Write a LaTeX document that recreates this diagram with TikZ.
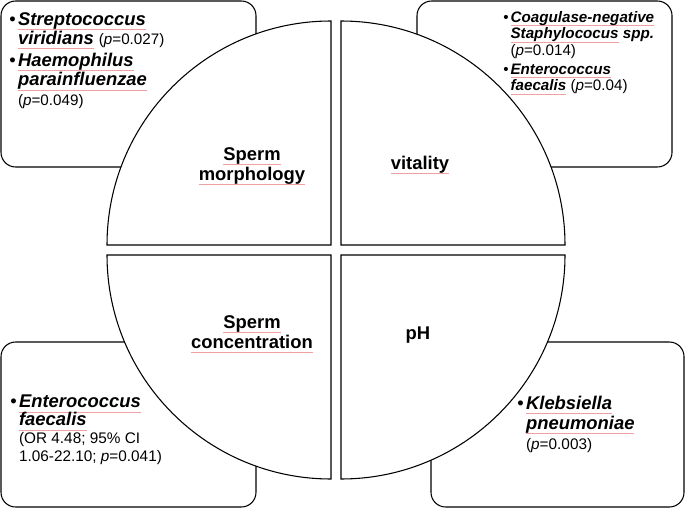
\documentclass[tikz,border=0pt]{standalone}
\usepackage{fontspec}
\setmainfont{Liberation Sans}
\definecolor{spellred}{RGB}{240,160,160}
\newsavebox\splbox
\newcommand\spl[1]{\sbox\splbox{#1}\rlap{\textcolor{spellred}{\rule[-0.45ex]{\wd\splbox}{0.45pt}}}\usebox\splbox}
\newcommand\bi[1]{\textbf{\textit{#1}}}
\newcommand\itm{\makebox[0.48em][l]{\textbullet}}
\newcommand\ind{\hspace*{0.48em}}
\newcommand\fbig{\fontsize{13.8}{14.5}\selectfont}
\newcommand\fmid{\fontsize{11.5}{13.5}\selectfont}
\newcommand\fsmall{\fontsize{11.4}{12.3}\selectfont}
\begin{document}
\begin{tikzpicture}[x=0.75pt,y=0.75pt,
    cornerbox/.style={draw, line width=0.8pt, rounded corners=11pt},
    quarter/.style={draw, fill=white, line width=0.8pt},
    listtext/.style={anchor=north west, align=left, inner sep=0pt},
    centrelabel/.style={align=center, font=\fontsize{13.8}{15}\selectfont\bfseries}]
  \useasboundingbox (0,0) rectangle (685,508);
  % boxes behind
  \draw[cornerbox] (1,507) rectangle (256,341);
  \draw[cornerbox] (417,507) rectangle (672,341);
  \draw[cornerbox] (1,166) rectangle (256,1);
  \draw[cornerbox] (431,166) rectangle (684,1);
  % four quarters
  \draw[quarter] (331,263) -- (107,263) arc[start angle=180, end angle=90, radius=224] -- cycle;
  \draw[quarter] (341,263) -- (341,487) arc[start angle=90, end angle=0, radius=224] -- cycle;
  \draw[quarter] (331,253) -- (107,253) arc[start angle=180, end angle=270, radius=224] -- cycle;
  \draw[quarter] (341,253) -- (565,253) arc[start angle=0, end angle=-90, radius=224] -- cycle;
  % labels
  \node[centrelabel] (morph) at (252,342) {\spl{Sperm}\\\spl{morphology}};
  \node[centrelabel] (vital) at (420,343) {\spl{vitality}};
  \node[centrelabel] (conc) at (252,174) {\spl{Sperm}\\\spl{concentration}};
  \node[centrelabel] (ph) at (418,173) {pH};
  % lists
  \node[listtext, font=\fbig] (morphlist) at (9,496)
    {\itm\spl{\bi{Streptococcus}}\\
     \ind\spl{\bi{viridians}} {\fsmall(\textit{p}=0.027)}\\[2pt]
     \itm\spl{\bi{Haemophilus}}\\
     \ind\spl{\bi{parainfluenzae}}\\
     \ind{\fsmall(\textit{p}=0.049)}};
  \node[listtext, font=\fsmall] (vitallist) at (503,497)
    {\itm\spl{\bi{Coagulase-negative}}\\
     \ind\spl{\bi{Staphylococus}} \bi{spp.}\\
     \ind(\textit{p}=0.014)\\[2pt]
     \itm\spl{\bi{Enterococcus}}\\
     \ind\spl{\bi{faecalis}} (\textit{p}=0.04)};
  \node[listtext, font=\fontsize{13.8}{13.5}\selectfont] (conclist) at (10,113)
    {\itm\spl{\bi{Enterococcus}}\\
     \ind\spl{\bi{faecalis}}\\
     \ind{\fmid(OR 4.48; 95\% CI}\\
     \ind{\fmid 1.06-22.10; \textit{p}=0.041)}};
  \node[listtext, font=\fontsize{13.8}{15}\selectfont] (phlist) at (517,112)
    {\itm\spl{\bi{Klebsiella}}\\
     \ind\spl{\bi{pneumoniae}}\\
     \ind{\fmid(\textit{p}=0.003)}};
\end{tikzpicture}
\end{document}
